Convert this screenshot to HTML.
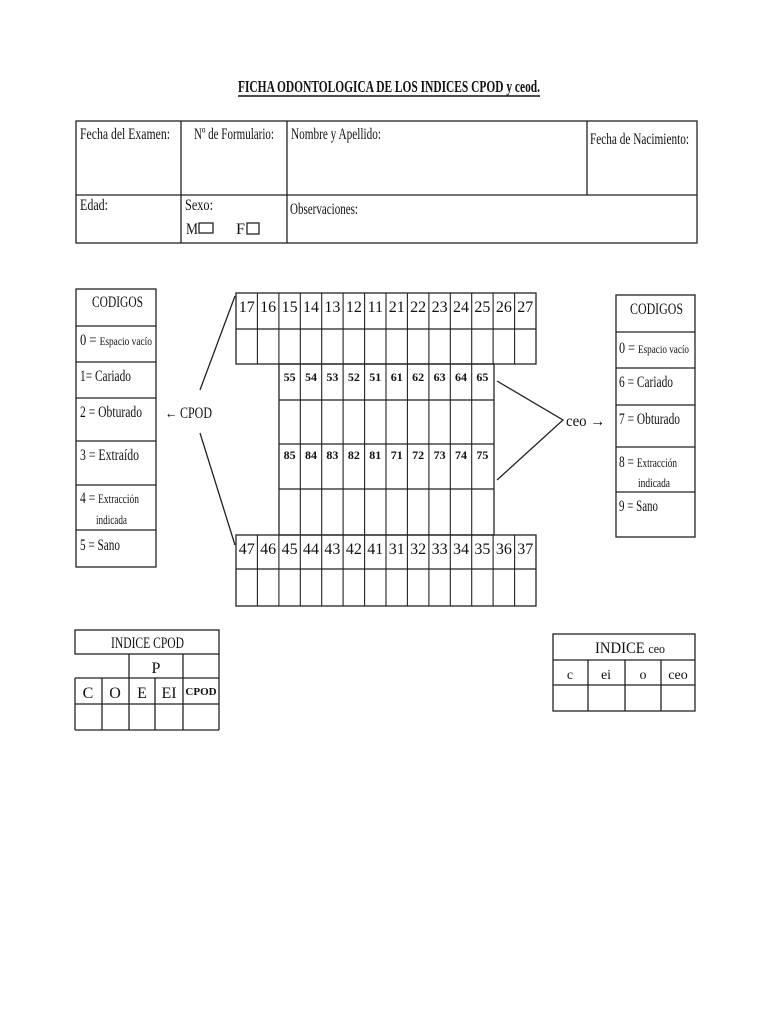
<!DOCTYPE html>
<html><head><meta charset="utf-8"><style>
html,body{margin:0;padding:0;background:#fff;}
svg{display:block;}
text{font-family:"Liberation Serif",serif;fill:#111;}
</style></head><body>
<svg width="768" height="1024" viewBox="0 0 768 1024" xmlns="http://www.w3.org/2000/svg">
<rect width="768" height="1024" fill="#fff"/>
<g stroke="#222" stroke-width="1.3" fill="none">
<rect x="76" y="121" width="621" height="122"/>
<line x1="76" y1="195" x2="697" y2="195"/>
<line x1="181" y1="121" x2="181" y2="243"/>
<line x1="287" y1="121" x2="287" y2="243"/>
<line x1="587" y1="121" x2="587" y2="195"/>
<rect x="199" y="223" width="14" height="10"/>
<rect x="247" y="223" width="12" height="11"/>
<rect x="76" y="289" width="80" height="278"/>
<line x1="76" y1="326" x2="156" y2="326"/><line x1="76" y1="362" x2="156" y2="362"/>
<line x1="76" y1="398" x2="156" y2="398"/><line x1="76" y1="441" x2="156" y2="441"/>
<line x1="76" y1="485" x2="156" y2="485"/><line x1="76" y1="530" x2="156" y2="530"/>
<rect x="616" y="295" width="79" height="242"/>
<line x1="616" y1="332" x2="695" y2="332"/><line x1="616" y1="368" x2="695" y2="368"/>
<line x1="616" y1="405" x2="695" y2="405"/><line x1="616" y1="447" x2="695" y2="447"/>
<line x1="616" y1="492" x2="695" y2="492"/>
<line x1="200" y1="390" x2="235" y2="296"/>
<line x1="200" y1="433" x2="235" y2="545"/>
<polyline points="497,381 563,420 497,480"/>
<rect x="236" y="293" width="300" height="71"/>
<line x1="236" y1="329" x2="536" y2="329"/>
<rect x="236" y="535" width="300" height="71"/>
<line x1="236" y1="569" x2="536" y2="569"/>
<rect x="279" y="364" width="215" height="171"/>
<line x1="279" y1="400" x2="494" y2="400"/>
<line x1="279" y1="444" x2="494" y2="444"/>
<line x1="279" y1="489" x2="494" y2="489"/>
</g>
<g stroke="#222" stroke-width="1.3" fill="none">
<rect x="75" y="630" width="144" height="24"/>
<line x1="75" y1="678" x2="219" y2="678"/>
<line x1="75" y1="704" x2="219" y2="704"/>
<line x1="75" y1="730" x2="219" y2="730"/>
<line x1="75" y1="678" x2="75" y2="730"/>
<line x1="102" y1="678" x2="102" y2="730"/>
<line x1="129" y1="654" x2="129" y2="730"/>
<line x1="155" y1="678" x2="155" y2="730"/>
<line x1="183" y1="654" x2="183" y2="730"/>
<line x1="219" y1="654" x2="219" y2="730"/>
<rect x="553" y="634" width="142" height="77"/>
<line x1="553" y1="660" x2="695" y2="660"/>
<line x1="553" y1="685" x2="695" y2="685"/>
<line x1="588" y1="660" x2="588" y2="711"/>
<line x1="625" y1="660" x2="625" y2="711"/>
<line x1="661" y1="660" x2="661" y2="711"/>
</g>
<g font-size="16" lengthAdjust="spacingAndGlyphs">
<text x="238" y="92" font-weight="bold" font-size="17" textLength="302" lengthAdjust="spacingAndGlyphs">FICHA ODONTOLOGICA DE LOS INDICES CPOD y ceod.</text>
<line x1="238" y1="96" x2="540" y2="96" stroke="#111" stroke-width="1.6"/>
<text x="80" y="139" textLength="90" lengthAdjust="spacingAndGlyphs">Fecha del Examen:</text>
<text x="194" y="139" textLength="80" lengthAdjust="spacingAndGlyphs">Nº de Formulario:</text>
<text x="291" y="139" textLength="90" lengthAdjust="spacingAndGlyphs">Nombre y Apellido:</text>
<text x="590" y="144" textLength="99" lengthAdjust="spacingAndGlyphs">Fecha de Nacimiento:</text>
<text x="80" y="210" textLength="28" lengthAdjust="spacingAndGlyphs">Edad:</text>
<text x="185" y="210" textLength="28" lengthAdjust="spacingAndGlyphs">Sexo:</text>
<text x="186" y="234" textLength="12" lengthAdjust="spacingAndGlyphs">M</text><text x="236" y="234" textLength="9" lengthAdjust="spacingAndGlyphs">F</text>
<text x="290" y="214" textLength="68" lengthAdjust="spacingAndGlyphs">Observaciones:</text>
<text x="92" y="307" textLength="51" lengthAdjust="spacingAndGlyphs">CODIGOS</text>
<text x="80" y="345" textLength="72" lengthAdjust="spacingAndGlyphs">0 = <tspan font-size="12">Espacio vacío</tspan></text>
<text x="80" y="381" textLength="51" lengthAdjust="spacingAndGlyphs">1= Cariado</text>
<text x="80" y="417" textLength="62" lengthAdjust="spacingAndGlyphs">2 = Obturado</text>
<text x="80" y="460" textLength="59" lengthAdjust="spacingAndGlyphs">3 = Extraído</text>
<text x="80" y="503" textLength="59" lengthAdjust="spacingAndGlyphs">4 = <tspan font-size="13">Extracción</tspan></text>
<text x="96" y="524" font-size="13" textLength="31" lengthAdjust="spacingAndGlyphs">indicada</text>
<text x="80" y="550" textLength="40" lengthAdjust="spacingAndGlyphs">5 = Sano</text>
<text x="165" y="418" textLength="47" lengthAdjust="spacingAndGlyphs">← CPOD</text>
<text x="630" y="314" textLength="53" lengthAdjust="spacingAndGlyphs">CODIGOS</text>
<text x="619" y="353" textLength="70" lengthAdjust="spacingAndGlyphs">0 = <tspan font-size="12">Espacio vacío</tspan></text>
<text x="619" y="387" textLength="54" lengthAdjust="spacingAndGlyphs">6 = Cariado</text>
<text x="619" y="424" textLength="61" lengthAdjust="spacingAndGlyphs">7 = Obturado</text>
<text x="619" y="467" textLength="58" lengthAdjust="spacingAndGlyphs">8 = <tspan font-size="13">Extracción</tspan></text>
<text x="638" y="487" font-size="13" textLength="32" lengthAdjust="spacingAndGlyphs">indicada</text>
<text x="619" y="511" textLength="39" lengthAdjust="spacingAndGlyphs">9 = Sano</text>
<text x="566" y="426" textLength="39" lengthAdjust="spacingAndGlyphs">ceo →</text>
<text x="111" y="648" textLength="73" lengthAdjust="spacingAndGlyphs">INDICE CPOD</text>
<text x="156" y="673" text-anchor="middle">P</text>
<text x="88" y="698" text-anchor="middle">C</text>
<text x="115" y="698" text-anchor="middle">O</text>
<text x="142" y="698" text-anchor="middle">E</text>
<text x="169" y="698" text-anchor="middle">EI</text>
<text x="201" y="695" text-anchor="middle" font-size="11" font-weight="bold">CPOD</text>
<text x="595" y="653" textLength="70" lengthAdjust="spacingAndGlyphs">INDICE <tspan font-size="13">ceo</tspan></text>
<text x="570" y="679" text-anchor="middle" font-size="14">c</text>
<text x="606" y="679" text-anchor="middle" font-size="14">ei</text>
<text x="643" y="679" text-anchor="middle" font-size="14">o</text>
<text x="678" y="679" text-anchor="middle" font-size="14">ceo</text>
</g>
<g stroke="#222" stroke-width="1.1">
<line x1="257.4" y1="293" x2="257.4" y2="364"/><line x1="278.9" y1="293" x2="278.9" y2="364"/>
<line x1="300.3" y1="293" x2="300.3" y2="364"/><line x1="321.7" y1="293" x2="321.7" y2="364"/>
<line x1="343.1" y1="293" x2="343.1" y2="364"/><line x1="364.6" y1="293" x2="364.6" y2="364"/>
<line x1="386" y1="293" x2="386" y2="364"/><line x1="407.4" y1="293" x2="407.4" y2="364"/>
<line x1="428.9" y1="293" x2="428.9" y2="364"/><line x1="450.3" y1="293" x2="450.3" y2="364"/>
<line x1="471.7" y1="293" x2="471.7" y2="364"/><line x1="493.1" y1="293" x2="493.1" y2="364"/>
<line x1="514.6" y1="293" x2="514.6" y2="364"/>
<line x1="257.4" y1="535" x2="257.4" y2="606"/><line x1="278.9" y1="535" x2="278.9" y2="606"/>
<line x1="300.3" y1="364" x2="300.3" y2="606"/><line x1="321.7" y1="364" x2="321.7" y2="606"/>
<line x1="343.1" y1="364" x2="343.1" y2="606"/><line x1="364.6" y1="364" x2="364.6" y2="606"/>
<line x1="386" y1="364" x2="386" y2="606"/><line x1="407.4" y1="364" x2="407.4" y2="606"/>
<line x1="428.9" y1="364" x2="428.9" y2="606"/><line x1="450.3" y1="364" x2="450.3" y2="606"/>
<line x1="471.7" y1="364" x2="471.7" y2="606"/><line x1="493.1" y1="535" x2="493.1" y2="606"/>
<line x1="514.6" y1="535" x2="514.6" y2="606"/>
</g>
<g font-size="16" text-anchor="middle">
<text x="246.7" y="312">17</text><text x="268.1" y="312">16</text><text x="289.6" y="312">15</text><text x="311" y="312">14</text><text x="332.4" y="312">13</text><text x="353.9" y="312">12</text><text x="375.3" y="312">11</text><text x="396.7" y="312">21</text><text x="418.1" y="312">22</text><text x="439.6" y="312">23</text><text x="461" y="312">24</text><text x="482.4" y="312">25</text><text x="503.9" y="312">26</text><text x="525.3" y="312">27</text>
<text x="246.7" y="554">47</text><text x="268.1" y="554">46</text><text x="289.6" y="554">45</text><text x="311" y="554">44</text><text x="332.4" y="554">43</text><text x="353.9" y="554">42</text><text x="375.3" y="554">41</text><text x="396.7" y="554">31</text><text x="418.1" y="554">32</text><text x="439.6" y="554">33</text><text x="461" y="554">34</text><text x="482.4" y="554">35</text><text x="503.9" y="554">36</text><text x="525.3" y="554">37</text>
</g>
<g font-size="12" font-weight="bold" text-anchor="middle">
<text x="289.6" y="381">55</text><text x="311" y="381">54</text><text x="332.4" y="381">53</text><text x="353.9" y="381">52</text><text x="375.3" y="381">51</text><text x="396.7" y="381">61</text><text x="418.1" y="381">62</text><text x="439.6" y="381">63</text><text x="461" y="381">64</text><text x="482.4" y="381">65</text>
<text x="289.6" y="459">85</text><text x="311" y="459">84</text><text x="332.4" y="459">83</text><text x="353.9" y="459">82</text><text x="375.3" y="459">81</text><text x="396.7" y="459">71</text><text x="418.1" y="459">72</text><text x="439.6" y="459">73</text><text x="461" y="459">74</text><text x="482.4" y="459">75</text>
</g>
</svg>
</body></html>
